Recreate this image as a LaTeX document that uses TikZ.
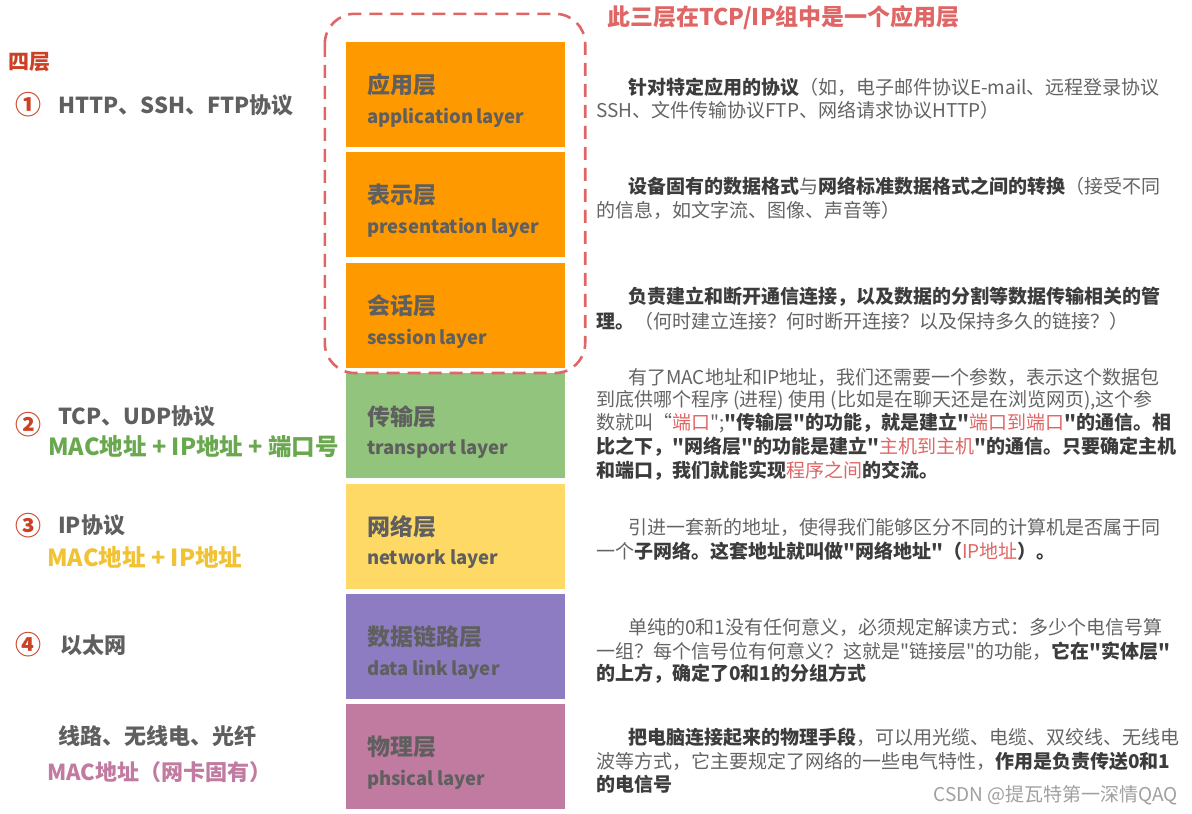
\documentclass[tikz,border=0pt]{standalone}
\usepackage{fontspec}
\setmainfont{Noto Sans CJK SC}[Ligatures=TeXOff]
\usepackage{tikz}
\usepackage{xcolor}
\usetikzlibrary{positioning,calc}
\definecolor{appfill}{RGB}{255, 153, 0}
\definecolor{transfill}{RGB}{147, 196, 125}
\definecolor{netfill}{RGB}{255, 217, 102}
\definecolor{linkfill}{RGB}{142, 124, 195}
\definecolor{physfill}{RGB}{194, 123, 160}
\definecolor{boxtext}{RGB}{95, 95, 95}
\definecolor{hint}{RGB}{224, 102, 102}
\definecolor{tagred}{RGB}{204, 65, 37}
\definecolor{macgreen}{RGB}{106, 168, 79}
\definecolor{macyellow}{RGB}{241, 194, 50}
\definecolor{macpink}{RGB}{194, 123, 160}
\definecolor{desctext}{RGB}{100, 100, 100}
\definecolor{descbold}{RGB}{60, 60, 60}
\definecolor{mark}{RGB}{160, 160, 160}
\newcommand{\keyw}[1]{{\bfseries\color{descbold}#1}}
\newcommand{\redw}[1]{\textcolor{hint}{#1}}
\newcommand{\layertext}[2]{{\fontsize{23}{26}\selectfont\rule{0pt}{32pt}#1}\\[11pt]{\fontsize{18.5}{20}\selectfont #2}}
\tikzstyle{layer} = [
    rectangle,
    minimum width=219pt,
    minimum height=105pt,
    text width=177pt,
    inner xsep=21pt,
    align=left,
    text=boxtext,
    font=\bfseries
]
\tikzstyle{group} = [
    draw=hint,
    line width=2.6pt,
    dash pattern=on 13pt off 8pt,
    rounded corners=30pt
]
\tikzstyle{desc} = [
    anchor=west,
    inner sep=0pt,
    text=desctext,
    font=\fontsize{19}{24}\selectfont
]
\tikzstyle{tag} = [
    anchor=west,
    inner sep=0pt,
    text=boxtext,
    font=\fontsize{22}{26}\selectfont\bfseries
]
\tikzstyle{num} = [
    inner sep=0pt,
    text=tagred,
    font=\fontsize{26}{28}\selectfont\bfseries
]

\begin{document}
\begin{tikzpicture}[x=1pt, y=-1pt]
    \fill[white] (0,0) rectangle (1192,814);
    \useasboundingbox (0,0) rectangle (1192,814);

    \node[layer, fill=appfill] (app) at (455.5,94.5) {\layertext{应用层}{application layer}};
    \node[layer, fill=appfill, below=5pt of app] (pres) {\layertext{表示层}{presentation layer}};
    \node[layer, fill=appfill, below=5pt of pres] (sess) {\layertext{会话层}{session layer}};
    \node[layer, fill=transfill, below=5pt of sess] (trans) {\layertext{传输层}{transport layer}};
    \node[layer, fill=netfill, below=5pt of trans] (net) {\layertext{网络层}{network layer}};
    \node[layer, fill=linkfill, below=5pt of net] (link) {\layertext{数据链路层}{data link layer}};
    \node[layer, fill=physfill, below=5pt of link] (phys) {\layertext{物理层}{phsical layer}};

    \draw[group] ([xshift=-21pt,yshift=28pt]app.north west) rectangle ([xshift=20pt,yshift=-5pt]sess.south east);
    \node[anchor=west, inner sep=0pt, text=hint, font=\fontsize{23}{26}\selectfont\bfseries] (title) at (607,18) {此三层在TCP/IP组中是一个应用层};

    \node[anchor=west, inner sep=0pt, text=tagred, font=\fontsize{21}{24}\selectfont\bfseries] (four) at (8,62) {四层};
    \node[num] (n1) at (29,105) {①};
    \node[tag] (t1) at (58,105) {HTTP、SSH、FTP协议};
    \node[num] (n2) at (29,425) {②};
    \node[tag] (t2) at (58,416) {TCP、UDP协议};
    \node[tag, text=macgreen, font=\fontsize{23.5}{26}\selectfont\bfseries] (m2) at (48,447) {MAC地址 + IP地址 + 端口号};
    \node[num] (n3) at (29,526) {③};
    \node[tag] (t3) at (58,525) {IP协议};
    \node[tag, text=macyellow, font=\fontsize{23.5}{26}\selectfont\bfseries] (m3) at (47,557) {MAC地址 + IP地址};
    \node[num] (n4) at (29,645) {④};
    \node[tag] (t4) at (60,645) {以太网};
    \node[tag] (t5) at (58,736) {线路、无线电、光纤};
    \node[tag, text=macpink] (m5) at (47,772) {MAC地址（网卡固有）};

    \node[desc] (d1a) at (628,87) {\keyw{针对特定应用的协议}（如，电子邮件协议E-mail、远程登录协议};
    \node[desc] (d1b) at (596,110) {SSH、文件传输协议FTP、网络请求协议HTTP）};

    \node[desc] (d2a) at (628,186) {\keyw{设备固有的数据格式}与\keyw{网络标准数据格式之间的转换}（接受不同};
    \node[desc] (d2b) at (596,210) {的信息，如文字流、图像、声音等）};

    \node[desc] (d3a) at (628,297) {\keyw{负责建立和断开通信连接，以及数据的分割等数据传输相关的管}};
    \node[desc] (d3b) at (596,321) {\keyw{理。}（何时建立连接？何时断开连接？以及保持多久的链接？）};

    \node[desc] (d4a) at (628,377) {有了MAC地址和IP地址，我们还需要一个参数，表示这个数据包};
    \node[desc] (d4b) at (596,400) {到底供哪个程序 (进程) 使用 (比如是在聊天还是在浏览网页),这个参};
    \node[desc] (d4c) at (596,423) {数就叫“\redw{端口}";\keyw{"传输层"的功能，就是建立"}\redw{端口到端口}\keyw{"的通信。相}};
    \node[desc] (d4d) at (596,447) {\keyw{比之下，"网络层"的功能是建立"}\redw{主机到主机}\keyw{"的通信。只要确定主机}};
    \node[desc] (d4e) at (596,471) {\keyw{和端口，我们就能实现}\redw{程序之间}\keyw{的交流。}};

    \node[desc] (d5a) at (628,527) {引进一套新的地址，使得我们能够区分不同的计算机是否属于同};
    \node[desc] (d5b) at (596,551) {一个\keyw{子网络。这套地址就叫做"网络地址"（}\redw{IP地址}\keyw{）。}};

    \node[desc] (d6a) at (628,627) {单纯的0和1没有任何意义，必须规定解读方式：多少个电信号算};
    \node[desc] (d6b) at (596,651) {一组？每个信号位有何意义？这就是"链接层"的功能，\keyw{它在"实体层"}};
    \node[desc] (d6c) at (596,674) {\keyw{的上方，确定了0和1的分组方式}};

    \node[desc] (d7a) at (628,737) {\keyw{把电脑连接起来的物理手段}，可以用光缆、电缆、双绞线、无线电};
    \node[desc] (d7b) at (596,761) {波等方式，它主要规定了网络的一些电气特性，\keyw{作用是负责传送0和1}};
    \node[desc] (d7c) at (596,784) {\keyw{的电信号}};

    \node[anchor=east, inner sep=0pt, text=mark, font=\fontsize{19}{22}\selectfont] (csdn) at (1178,795) {CSDN @提瓦特第一深情QAQ};
\end{tikzpicture}
\end{document}
